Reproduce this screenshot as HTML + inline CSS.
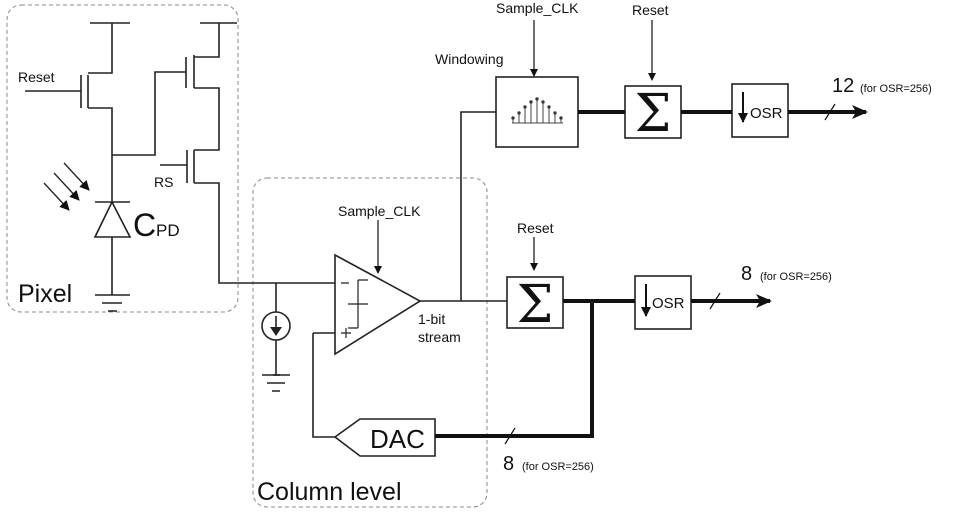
<!DOCTYPE html>
<html><head><meta charset="utf-8"><style>
html,body{margin:0;padding:0;background:#fff;}
svg{display:block;}
text{font-family:"Liberation Sans",sans-serif;fill:#111;}
</style></head><body>
<svg width="958" height="515" viewBox="0 0 958 515" xmlns="http://www.w3.org/2000/svg">
<defs>
<marker id="ah" markerWidth="8" markerHeight="8" refX="7" refY="4" orient="auto" markerUnits="userSpaceOnUse"><path d="M0,0 L8,4 L0,8 Z" fill="#111"/></marker>
<marker id="ah2" markerWidth="10" markerHeight="10" refX="9" refY="5" orient="auto" markerUnits="userSpaceOnUse"><path d="M0,0 L10,5 L0,10 Z" fill="#111"/></marker>
<marker id="big" markerWidth="16" markerHeight="14" refX="14" refY="7" orient="auto" markerUnits="userSpaceOnUse"><path d="M0,0 L16,7 L0,14 L4,7 Z" fill="#111"/></marker>
</defs>
<g fill="none" stroke="#888" stroke-width="1" stroke-dasharray="4,3">
<rect x="7" y="5" width="231" height="307" rx="14"/>
<rect x="253" y="178" width="234" height="329" rx="14"/>
</g>
<g fill="none" stroke="#222" stroke-width="1.6">
<path d="M90,23 H130 M112,23 V73 H88 M88,75 V108 M81,75 V108 M25,91 H81 M88,108 H112 V202"/>
<path d="M112,155 H155 V72 H186 M186,57 V88 M194,55 V88 M194,57 H219 V23 M200,23 H237 M194,88 H219 V150 H194 M194,150 V183 M187,150 V183 M160,165 H187 M194,183 H219 V283 H335"/>
<path d="M95,202 H130 M112,202 L95,237 H130 Z M112,237 V295 M95,295 H130 M102,303 H122 M108,311 H117"/>
<path d="M273,375 H280"/>
</g>
<g fill="none" stroke="#222" stroke-width="1.3">
<path d="M64,163 L89,190" marker-end="url(#ah2)"/>
<path d="M54,173 L79,200" marker-end="url(#ah2)"/>
<path d="M44,183 L69,210" marker-end="url(#ah2)"/>
</g>
<g fill="none" stroke="#222" stroke-width="1.6">
<path d="M276,283 V312 M276,340 V375 M262,375 H290 M267,383 H285 M272,391 H280"/>
<circle cx="276" cy="326" r="14"/>
<path d="M276,316 V330"/>
<path d="M335,255 L420,301 L335,354 Z"/>
<path d="M341,283 H349 M341,333 H351 M346,328 V338 M358,280 H368 M358,280 V328 M348,304 H368 M348,328 H358" stroke-width="1.2"/>
<path d="M313,333 H335 M313,333 V437 H335"/>
<path d="M335,437 L360,419 H435 V456 H360 Z"/>
<path d="M420,301 H507 M461,301 V112 H496"/>
<rect x="507" y="277" width="56" height="51"/>
<rect x="635" y="276" width="56" height="53"/>
<rect x="496" y="77" width="82" height="70"/>
<rect x="625" y="86" width="56" height="52"/>
<rect x="732" y="84" width="56" height="53"/>
</g>
<g fill="#222" stroke="none"><polygon points="270,327 282,327 276,336"/></g>
<g fill="none" stroke="#111" stroke-width="4">
<path d="M563,301 H635 M592,301 V436 H435"/>
<path d="M691,301 H770" marker-end="url(#big)"/>
<path d="M578,112 H625 M681,112 H732"/>
<path d="M788,112 H866" marker-end="url(#big)"/>
</g>
<g stroke="#111" stroke-width="1.2" fill="none">
<path d="M505,444 L515,428 M710,309 L720,293 M825,120 L835,104"/>
<path d="M378,220 V273" marker-end="url(#ah)"/>
<path d="M534,237 V270" marker-end="url(#ah)"/>
<path d="M534,20 V76" marker-end="url(#ah)"/>
<path d="M652,20 V80" marker-end="url(#ah)"/>
</g>
<g stroke="#111" stroke-width="2" fill="none">
<path d="M743,92 V122" marker-end="url(#ah2)"/>
<path d="M646,284 V316" marker-end="url(#ah2)"/>
</g>
<g stroke="#444" stroke-width="1" fill="#222">
<path d="M512,123 H563"/>
<line x1="513" y1="123" x2="513" y2="118"/><circle cx="513" cy="118" r="1.2"/>
<line x1="519" y1="123" x2="519" y2="113"/><circle cx="519" cy="113" r="1.2"/>
<line x1="525" y1="123" x2="525" y2="107"/><circle cx="525" cy="107" r="1.2"/>
<line x1="531" y1="123" x2="531" y2="102"/><circle cx="531" cy="102" r="1.2"/>
<line x1="537" y1="123" x2="537" y2="99"/><circle cx="537" cy="99" r="1.2"/>
<line x1="543" y1="123" x2="543" y2="102"/><circle cx="543" cy="102" r="1.2"/>
<line x1="549" y1="123" x2="549" y2="107"/><circle cx="549" cy="107" r="1.2"/>
<line x1="555" y1="123" x2="555" y2="113"/><circle cx="555" cy="113" r="1.2"/>
<line x1="561" y1="123" x2="561" y2="118"/><circle cx="561" cy="118" r="1.2"/>
</g>
<text x="18" y="82" font-size="14">Reset</text>
<text x="154" y="187" font-size="14">RS</text>
<text x="133" y="236" font-size="32">C</text><text x="156" y="236" font-size="17">PD</text>
<text x="18" y="302" font-size="25">Pixel</text>
<text x="338" y="216" font-size="14">Sample_CLK</text>
<text x="418" y="324" font-size="14">1-bit</text>
<text x="418" y="342" font-size="14">stream</text>
<text x="370" y="448" font-size="26">DAC</text>
<text x="257" y="500" font-size="25">Column level</text>
<text x="517" y="233" font-size="14">Reset</text>
<text x="535" y="322" font-size="52" text-anchor="middle" font-family="DejaVu Serif, serif" style="font-family:'DejaVu Serif',serif">Σ</text>
<text x="653" y="131" font-size="52" text-anchor="middle" style="font-family:'DejaVu Serif',serif">Σ</text>
<text x="652" y="308" font-size="15">OSR</text>
<text x="750" y="118" font-size="15">OSR</text>
<text x="496" y="13" font-size="14">Sample_CLK</text>
<text x="632" y="15" font-size="14">Reset</text>
<text x="435" y="64" font-size="14">Windowing</text>
<text x="832" y="92" font-size="20">12</text><text x="860" y="92" font-size="11">(for OSR=256)</text>
<text x="741" y="280" font-size="20">8</text><text x="760" y="280" font-size="11">(for OSR=256)</text>
<text x="503" y="470" font-size="20">8</text><text x="522" y="470" font-size="11">(for OSR=256)</text>
</svg>
</body></html>
